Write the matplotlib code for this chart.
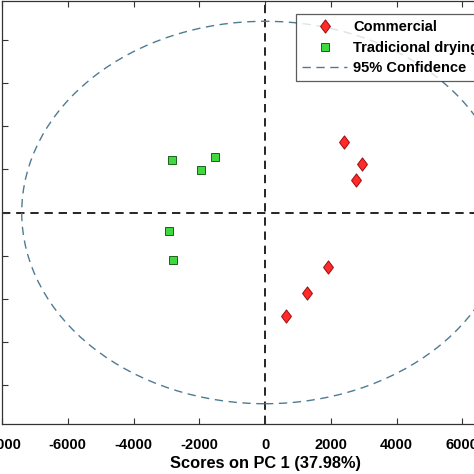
import numpy as np
import matplotlib.pyplot as plt
from matplotlib.patches import Ellipse
from matplotlib.path import Path

plt.rcParams['font.family'] = ['Liberation Sans', 'DejaVu Sans']
plt.rcParams['axes.unicode_minus'] = False

# Scores
commercial_x = [2405, 2944, 2770, 1927, 1279, 630]
commercial_y = [1624, 1125, 755, -1263, -1864, -2402]
tradicional_x = [-2831, -1939, -1513, -2932, -2801]
tradicional_y = [1217, 977, 1293, -423, -1109]

# 95% confidence ellipse (semi-axes)
ellipse_a = 7400
ellipse_b = 4430

x_ticks = [-8000, -6000, -4000, -2000, 0, 2000, 4000, 6000, 8000]
y_ticks = [-4000, -3000, -2000, -1000, 0, 1000, 2000, 3000, 4000]

diamond = Path([(0, 1), (0.75, 0), (0, -1), (-0.75, 0), (0, 1)],
               [Path.MOVETO, Path.LINETO, Path.LINETO, Path.LINETO, Path.CLOSEPOLY])

fig = plt.figure(figsize=(4.74, 4.74), dpi=100)
ax = fig.add_axes([2 / 474, 50 / 474, 526 / 474, 423 / 474])

ax.axhline(0, color='black', linestyle=(0, (5, 3.5)), linewidth=1.2, zorder=1)
ax.axvline(0, color='black', linestyle=(0, (5, 3.5)), linewidth=1.2, zorder=1)

ax.plot(commercial_x, commercial_y, linestyle='none', marker=diamond, markersize=9.5,
        markerfacecolor='#ff2a2a', markeredgecolor='#9a0d0d', markeredgewidth=0.7,
        label='Commercial', zorder=3)
ax.plot(tradicional_x, tradicional_y, linestyle='none', marker='s', markersize=6.2,
        markerfacecolor='#3fd93f', markeredgecolor='#1c5f1c', markeredgewidth=0.7,
        label='Tradicional drying', zorder=3)

ell = Ellipse((0, 0), 2 * ellipse_a, 2 * ellipse_b, fill=False,
              edgecolor='#4f7b92', linewidth=1.0, linestyle=(0, (6, 4)), zorder=2)
ax.add_patch(ell)
ax.plot([], [], color='#4f7b92', linewidth=1.0, linestyle=(0, (6, 4)), label='95% Confidence')

ax.set_xlim(-8000, 8000)
ax.set_ylim(-4900, 4900)
ax.set_xticks(x_ticks)
ax.set_yticks(y_ticks)
ax.tick_params(direction='in', length=4, width=0.8, top=True, right=True,
               color='#333333', labelsize=10.5, pad=10)
for lab in ax.get_xticklabels() + ax.get_yticklabels():
    lab.set_fontweight('bold')
for s in ax.spines.values():
    s.set_color('#333333')
    s.set_linewidth(0.9)

ax.set_xlabel('Scores on PC 1 (37.98%)', fontsize=11.8, fontweight='bold', labelpad=3)

leg = ax.legend(loc='upper left', bbox_to_anchor=(296 / 474, 1 - 14 / 474),
                bbox_transform=fig.transFigure, fontsize=10.5, frameon=True,
                fancybox=False, edgecolor='#333333', handlelength=3.1,
                handletextpad=0.4, labelspacing=0.45, borderpad=0.42, borderaxespad=0)
leg.get_frame().set_linewidth(0.9)
for t in leg.get_texts():
    t.set_fontweight('bold')

fig.savefig('out.png', dpi=100)
